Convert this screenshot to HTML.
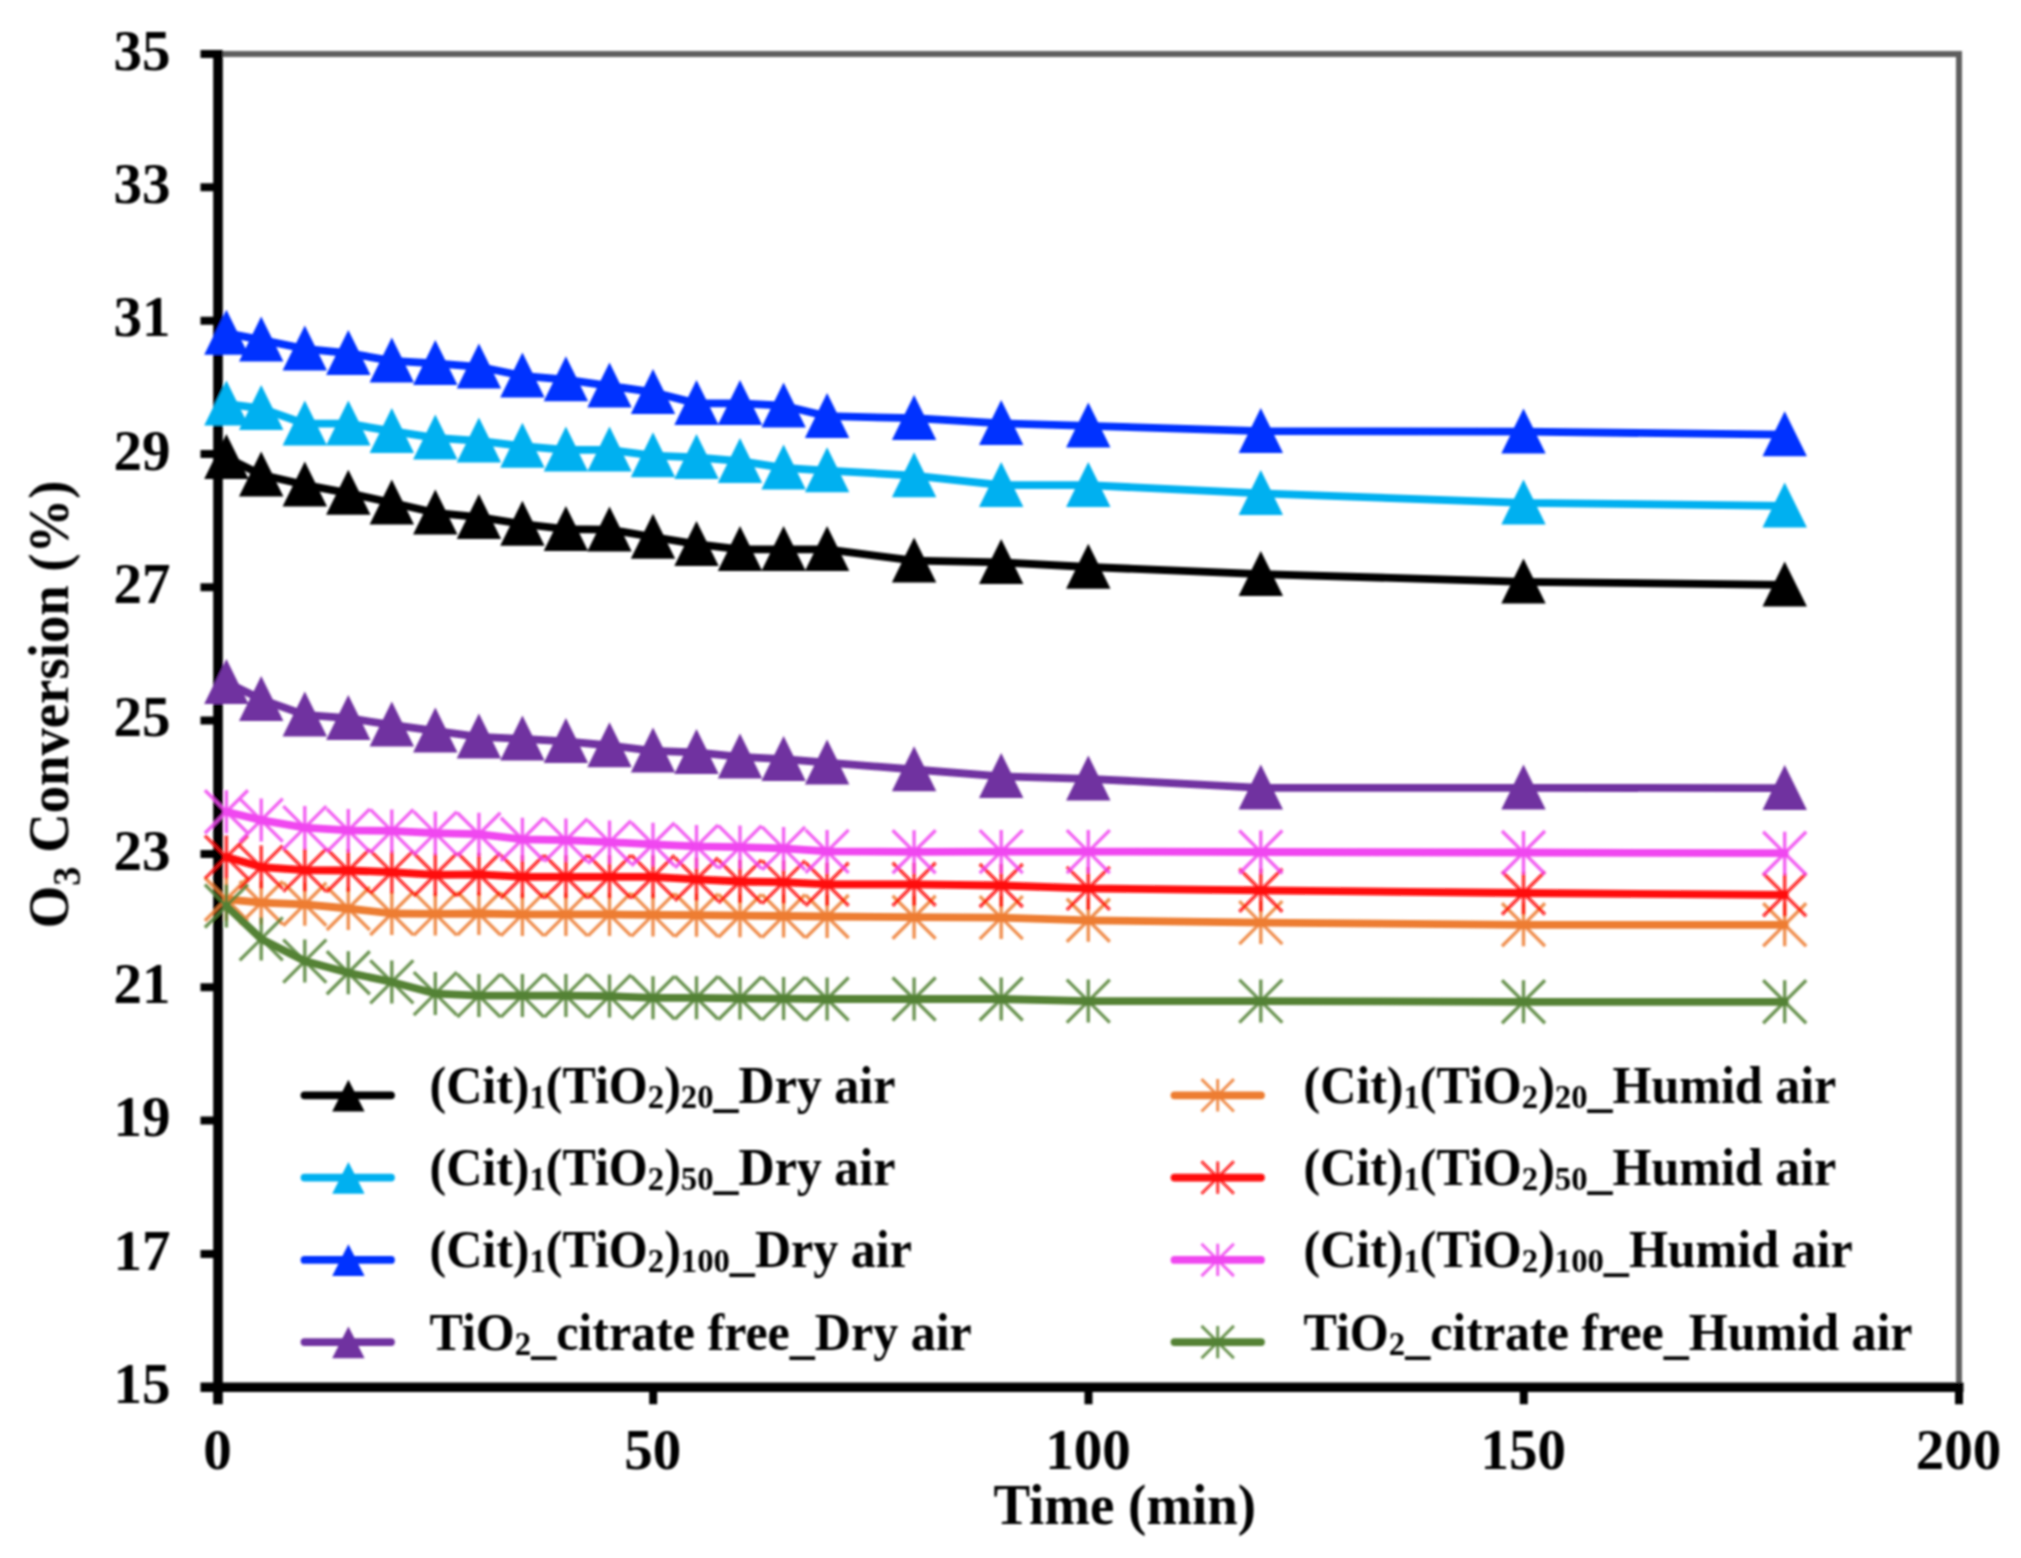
<!DOCTYPE html>
<html lang="en">
<head>
<meta charset="utf-8">
<title>O3 Conversion vs Time</title>
<style>
html,body{margin:0;padding:0;background:#fff;}
body{width:2021px;height:1558px;overflow:hidden;}
svg{display:block;}
.t{font-family:"Liberation Serif","Times New Roman",serif;font-weight:bold;fill:#000;}
</style>
</head>
<body>
<svg width="2021" height="1558" viewBox="0 0 2021 1558">
<defs><filter id="soft" x="0" y="0" width="2021" height="1558" filterUnits="userSpaceOnUse"><feGaussianBlur stdDeviation="0.8"/></filter></defs>
<rect width="2021" height="1558" fill="#ffffff"/>
<g filter="url(#soft)">
<path d="M218 54H1959V1387.3" fill="none" stroke="#5f5f5f" stroke-width="6" stroke-linejoin="miter"/>
<g stroke="#000" stroke-width="9.6" fill="none">
<path d="M218 50V1404.3"/>
<path d="M200.5 1387.3H1963.5"/>
</g>
<path d="M200.5 1254H218M200.5 1120.6H218M200.5 987.3H218M200.5 854H218M200.5 720.6H218M200.5 587.3H218M200.5 454H218M200.5 320.7H218M200.5 187.3H218M200.5 54H218M653.2 1387.3V1404.3M1088.5 1387.3V1404.3M1523.8 1387.3V1404.3M1959 1387.3V1404.3" stroke="#000" stroke-width="8" fill="none"/>
<g fill="#000000" stroke="none">
<polyline points="226.4,457.4 261.2,474.7 304.8,484.8 348.3,493.1 391.8,502.7 435.3,512.8 478.9,517.2 522.4,524 565.9,529.1 609.5,529.6 653,537 696.5,544.2 740,549.4 783.6,549.4 827.1,549.4 914.1,560.6 1001.2,562.3 1088.3,567 1260.8,574.1 1523.5,581.8 1784.7,584.8" fill="none" stroke="#000000" stroke-width="7.8" stroke-linejoin="round" stroke-linecap="round"/>
<path d="M226.4 434.1L248.6 479.1L204.2 479.1ZM261.2 451.4L283.4 496.4L239 496.4ZM304.8 461.4L327 506.4L282.6 506.4ZM348.3 469.8L370.5 514.8L326.1 514.8ZM391.8 479.4L414 524.4L369.6 524.4ZM435.3 489.5L457.5 534.5L413.1 534.5ZM478.9 494L501.1 539L456.7 539ZM522.4 500.8L544.6 545.8L500.2 545.8ZM565.9 505.9L588.1 550.9L543.7 550.9ZM609.5 506.4L631.7 551.4L587.3 551.4ZM653 513.8L675.2 558.8L630.8 558.8ZM696.5 521L718.7 566L674.3 566ZM740 526.1L762.2 571.1L717.8 571.1ZM783.6 526.1L805.8 571.1L761.4 571.1ZM827.1 526.1L849.3 571.1L804.9 571.1ZM914.1 537.4L936.3 582.4L891.9 582.4ZM1001.2 539L1023.4 584L979 584ZM1088.3 543.8L1110.5 588.8L1066.1 588.8ZM1260.8 550.9L1283 595.9L1238.6 595.9ZM1523.5 558.5L1545.7 603.5L1501.3 603.5ZM1784.7 561.5L1806.9 606.5L1762.5 606.5Z"/>
</g>
<g fill="#00B0F0" stroke="none">
<polyline points="226.4,403.9 261.2,408.4 304.8,423.7 348.3,423.7 391.8,431.2 435.3,437.9 478.9,440.9 522.4,446.1 565.9,449.9 609.5,449.9 653,455.6 696.5,457.4 740,461.2 783.6,467.9 827.1,470.6 914.1,475.6 1001.2,485.2 1088.3,485.2 1260.8,493.4 1523.5,502.9 1784.7,505.8" fill="none" stroke="#00B0F0" stroke-width="7.8" stroke-linejoin="round" stroke-linecap="round"/>
<path d="M226.4 380.6L248.6 425.6L204.2 425.6ZM261.2 385.1L283.4 430.1L239 430.1ZM304.8 400.4L327 445.4L282.6 445.4ZM348.3 400.4L370.5 445.4L326.1 445.4ZM391.8 407.9L414 452.9L369.6 452.9ZM435.3 414.6L457.5 459.6L413.1 459.6ZM478.9 417.6L501.1 462.6L456.7 462.6ZM522.4 422.8L544.6 467.8L500.2 467.8ZM565.9 426.6L588.1 471.6L543.7 471.6ZM609.5 426.6L631.7 471.6L587.3 471.6ZM653 432.2L675.2 477.2L630.8 477.2ZM696.5 434.1L718.7 479.1L674.3 479.1ZM740 437.9L762.2 482.9L717.8 482.9ZM783.6 444.6L805.8 489.6L761.4 489.6ZM827.1 447.2L849.3 492.2L804.9 492.2ZM914.1 452.2L936.3 497.2L891.9 497.2ZM1001.2 461.9L1023.4 506.9L979 506.9ZM1088.3 461.9L1110.5 506.9L1066.1 506.9ZM1260.8 470.1L1283 515.1L1238.6 515.1ZM1523.5 479.6L1545.7 524.6L1501.3 524.6ZM1784.7 482.5L1806.9 527.5L1762.5 527.5Z"/>
</g>
<g fill="#0432FF" stroke="none">
<polyline points="226.4,333.1 261.2,339.9 304.8,348.8 348.3,353.2 391.8,360.8 435.3,363.4 478.9,366.8 522.4,375.8 565.9,379.6 609.5,385.9 653,392.2 696.5,403.4 740,403.4 783.6,405.7 827.1,416.2 914.1,418.2 1001.2,423.4 1088.3,425.8 1260.8,431.2 1523.5,431.7 1784.7,434.6" fill="none" stroke="#0432FF" stroke-width="7.8" stroke-linejoin="round" stroke-linecap="round"/>
<path d="M226.4 309.8L248.6 354.8L204.2 354.8ZM261.2 316.6L283.4 361.6L239 361.6ZM304.8 325.4L327 370.4L282.6 370.4ZM348.3 329.9L370.5 374.9L326.1 374.9ZM391.8 337.4L414 382.4L369.6 382.4ZM435.3 340.1L457.5 385.1L413.1 385.1ZM478.9 343.4L501.1 388.4L456.7 388.4ZM522.4 352.4L544.6 397.4L500.2 397.4ZM565.9 356.2L588.1 401.2L543.7 401.2ZM609.5 362.6L631.7 407.6L587.3 407.6ZM653 368.9L675.2 413.9L630.8 413.9ZM696.5 380.1L718.7 425.1L674.3 425.1ZM740 380.1L762.2 425.1L717.8 425.1ZM783.6 382.4L805.8 427.4L761.4 427.4ZM827.1 392.9L849.3 437.9L804.9 437.9ZM914.1 394.9L936.3 439.9L891.9 439.9ZM1001.2 400.1L1023.4 445.1L979 445.1ZM1088.3 402.4L1110.5 447.4L1066.1 447.4ZM1260.8 407.9L1283 452.9L1238.6 452.9ZM1523.5 408.4L1545.7 453.4L1501.3 453.4ZM1784.7 411.2L1806.9 456.2L1762.5 456.2Z"/>
</g>
<g fill="#7030A0" stroke="none">
<polyline points="226.4,682.3 261.2,699.3 304.8,714.8 348.3,718.2 391.8,724.9 435.3,730.8 478.9,736.8 522.4,738.8 565.9,741.4 609.5,745.5 653,750.8 696.5,752.3 740,756.9 783.6,759.1 827.1,762.6 914.1,769.5 1001.2,776.4 1088.3,778.8 1260.8,787.8 1523.5,787.8 1784.7,788.2" fill="none" stroke="#7030A0" stroke-width="7.8" stroke-linejoin="round" stroke-linecap="round"/>
<path d="M226.4 659L248.6 704L204.2 704ZM261.2 676L283.4 721L239 721ZM304.8 691.5L327 736.5L282.6 736.5ZM348.3 695L370.5 740L326.1 740ZM391.8 701.6L414 746.6L369.6 746.6ZM435.3 707.5L457.5 752.5L413.1 752.5ZM478.9 713.5L501.1 758.5L456.7 758.5ZM522.4 715.5L544.6 760.5L500.2 760.5ZM565.9 718.1L588.1 763.1L543.7 763.1ZM609.5 722.2L631.7 767.2L587.3 767.2ZM653 727.5L675.2 772.5L630.8 772.5ZM696.5 729L718.7 774L674.3 774ZM740 733.6L762.2 778.6L717.8 778.6ZM783.6 735.9L805.8 780.9L761.4 780.9ZM827.1 739.4L849.3 784.4L804.9 784.4ZM914.1 746.2L936.3 791.2L891.9 791.2ZM1001.2 753.1L1023.4 798.1L979 798.1ZM1088.3 755.5L1110.5 800.5L1066.1 800.5ZM1260.8 764.5L1283 809.5L1238.6 809.5ZM1523.5 764.5L1545.7 809.5L1501.3 809.5ZM1784.7 765L1806.9 810L1762.5 810Z"/>
</g>
<g fill="none" stroke="#ED7D31">
<polyline points="226.4,899.3 261.2,902.7 304.8,904.3 348.3,908.5 391.8,913.5 435.3,913.9 478.9,913.5 522.4,914.4 565.9,914.4 609.5,914.4 653,914.9 696.5,915.2 740,915.7 783.6,916 827.1,916.5 914.1,917.2 1001.2,917.6 1088.3,920.3 1260.8,922.6 1523.5,924.8 1784.7,924.8" stroke-width="7.8" stroke-linejoin="round" stroke-linecap="round"/>
<path d="M204.9 877.8L247.9 920.8M204.9 920.8L247.9 877.8M226.4 877.8L226.4 920.8M239.7 881.2L282.7 924.2M239.7 924.2L282.7 881.2M261.2 881.2L261.2 924.2M283.3 882.8L326.3 925.8M283.3 925.8L326.3 882.8M304.8 882.8L304.8 925.8M326.8 887L369.8 930M326.8 930L369.8 887M348.3 887L348.3 930M370.3 892L413.3 935M370.3 935L413.3 892M391.8 892L391.8 935M413.8 892.4L456.8 935.4M413.8 935.4L456.8 892.4M435.3 892.4L435.3 935.4M457.4 892L500.4 935M457.4 935L500.4 892M478.9 892L478.9 935M500.9 892.9L543.9 935.9M500.9 935.9L543.9 892.9M522.4 892.9L522.4 935.9M544.4 892.9L587.4 935.9M544.4 935.9L587.4 892.9M565.9 892.9L565.9 935.9M588 892.9L631 935.9M588 935.9L631 892.9M609.5 892.9L609.5 935.9M631.5 893.4L674.5 936.4M631.5 936.4L674.5 893.4M653 893.4L653 936.4M675 893.7L718 936.7M675 936.7L718 893.7M696.5 893.7L696.5 936.7M718.5 894.2L761.5 937.2M718.5 937.2L761.5 894.2M740 894.2L740 937.2M762.1 894.5L805.1 937.5M762.1 937.5L805.1 894.5M783.6 894.5L783.6 937.5M805.6 895L848.6 938M805.6 938L848.6 895M827.1 895L827.1 938M892.6 895.7L935.6 938.7M892.6 938.7L935.6 895.7M914.1 895.7L914.1 938.7M979.7 896.1L1022.7 939.1M979.7 939.1L1022.7 896.1M1001.2 896.1L1001.2 939.1M1066.8 898.8L1109.8 941.8M1066.8 941.8L1109.8 898.8M1088.3 898.8L1088.3 941.8M1239.3 901.1L1282.3 944.1M1239.3 944.1L1282.3 901.1M1260.8 901.1L1260.8 944.1M1502 903.3L1545 946.3M1502 946.3L1545 903.3M1523.5 903.3L1523.5 946.3M1763.2 903.3L1806.2 946.3M1763.2 946.3L1806.2 903.3M1784.7 903.3L1784.7 946.3" stroke-width="3.4" stroke-opacity="0.85"/>
</g>
<g fill="none" stroke="#FF0A0A">
<polyline points="226.4,857.1 261.2,867.1 304.8,870.1 348.3,870.5 391.8,872.1 435.3,874.8 478.9,874.3 522.4,876.8 565.9,876.8 609.5,876.8 653,876.8 696.5,879.3 740,881.5 783.6,882.1 827.1,884.3 914.1,884.3 1001.2,885.5 1088.3,888.4 1260.8,890.3 1523.5,893 1784.7,894.8" stroke-width="7.8" stroke-linejoin="round" stroke-linecap="round"/>
<path d="M204.9 835.6L247.9 878.6M204.9 878.6L247.9 835.6M226.4 835.6L226.4 878.6M239.7 845.6L282.7 888.6M239.7 888.6L282.7 845.6M261.2 845.6L261.2 888.6M283.3 848.6L326.3 891.6M283.3 891.6L326.3 848.6M304.8 848.6L304.8 891.6M326.8 849L369.8 892M326.8 892L369.8 849M348.3 849L348.3 892M370.3 850.6L413.3 893.6M370.3 893.6L413.3 850.6M391.8 850.6L391.8 893.6M413.8 853.3L456.8 896.3M413.8 896.3L456.8 853.3M435.3 853.3L435.3 896.3M457.4 852.8L500.4 895.8M457.4 895.8L500.4 852.8M478.9 852.8L478.9 895.8M500.9 855.3L543.9 898.3M500.9 898.3L543.9 855.3M522.4 855.3L522.4 898.3M544.4 855.3L587.4 898.3M544.4 898.3L587.4 855.3M565.9 855.3L565.9 898.3M588 855.3L631 898.3M588 898.3L631 855.3M609.5 855.3L609.5 898.3M631.5 855.3L674.5 898.3M631.5 898.3L674.5 855.3M653 855.3L653 898.3M675 857.8L718 900.8M675 900.8L718 857.8M696.5 857.8L696.5 900.8M718.5 860L761.5 903M718.5 903L761.5 860M740 860L740 903M762.1 860.6L805.1 903.6M762.1 903.6L805.1 860.6M783.6 860.6L783.6 903.6M805.6 862.8L848.6 905.8M805.6 905.8L848.6 862.8M827.1 862.8L827.1 905.8M892.6 862.8L935.6 905.8M892.6 905.8L935.6 862.8M914.1 862.8L914.1 905.8M979.7 864L1022.7 907M979.7 907L1022.7 864M1001.2 864L1001.2 907M1066.8 866.9L1109.8 909.9M1066.8 909.9L1109.8 866.9M1088.3 866.9L1088.3 909.9M1239.3 868.8L1282.3 911.8M1239.3 911.8L1282.3 868.8M1260.8 868.8L1260.8 911.8M1502 871.5L1545 914.5M1502 914.5L1545 871.5M1523.5 871.5L1523.5 914.5M1763.2 873.3L1806.2 916.3M1763.2 916.3L1806.2 873.3M1784.7 873.3L1784.7 916.3" stroke-width="3.4" stroke-opacity="0.85"/>
</g>
<g fill="none" stroke="#F046F0">
<polyline points="226.4,811.7 261.2,820.1 304.8,827.6 348.3,830.4 391.8,830.9 435.3,833.1 478.9,834.2 522.4,839.3 565.9,840.1 609.5,842.1 653,844.3 696.5,846.4 740,847.1 783.6,848.4 827.1,851.4 914.1,851.8 1001.2,851.6 1088.3,851.6 1260.8,852 1523.5,852.5 1784.7,853.2" stroke-width="7.8" stroke-linejoin="round" stroke-linecap="round"/>
<path d="M204.9 790.2L247.9 833.2M204.9 833.2L247.9 790.2M226.4 790.2L226.4 833.2M239.7 798.6L282.7 841.6M239.7 841.6L282.7 798.6M261.2 798.6L261.2 841.6M283.3 806.1L326.3 849.1M283.3 849.1L326.3 806.1M304.8 806.1L304.8 849.1M326.8 808.9L369.8 851.9M326.8 851.9L369.8 808.9M348.3 808.9L348.3 851.9M370.3 809.4L413.3 852.4M370.3 852.4L413.3 809.4M391.8 809.4L391.8 852.4M413.8 811.6L456.8 854.6M413.8 854.6L456.8 811.6M435.3 811.6L435.3 854.6M457.4 812.7L500.4 855.7M457.4 855.7L500.4 812.7M478.9 812.7L478.9 855.7M500.9 817.8L543.9 860.8M500.9 860.8L543.9 817.8M522.4 817.8L522.4 860.8M544.4 818.6L587.4 861.6M544.4 861.6L587.4 818.6M565.9 818.6L565.9 861.6M588 820.6L631 863.6M588 863.6L631 820.6M609.5 820.6L609.5 863.6M631.5 822.8L674.5 865.8M631.5 865.8L674.5 822.8M653 822.8L653 865.8M675 824.9L718 867.9M675 867.9L718 824.9M696.5 824.9L696.5 867.9M718.5 825.6L761.5 868.6M718.5 868.6L761.5 825.6M740 825.6L740 868.6M762.1 826.9L805.1 869.9M762.1 869.9L805.1 826.9M783.6 826.9L783.6 869.9M805.6 829.9L848.6 872.9M805.6 872.9L848.6 829.9M827.1 829.9L827.1 872.9M892.6 830.3L935.6 873.3M892.6 873.3L935.6 830.3M914.1 830.3L914.1 873.3M979.7 830.1L1022.7 873.1M979.7 873.1L1022.7 830.1M1001.2 830.1L1001.2 873.1M1066.8 830.1L1109.8 873.1M1066.8 873.1L1109.8 830.1M1088.3 830.1L1088.3 873.1M1239.3 830.5L1282.3 873.5M1239.3 873.5L1282.3 830.5M1260.8 830.5L1260.8 873.5M1502 831L1545 874M1502 874L1545 831M1523.5 831L1523.5 874M1763.2 831.7L1806.2 874.7M1763.2 874.7L1806.2 831.7M1784.7 831.7L1784.7 874.7" stroke-width="3.4" stroke-opacity="0.85"/>
</g>
<g fill="none" stroke="#548235">
<polyline points="226.4,906 261.2,938.9 304.8,961.1 348.3,972.8 391.8,981.9 435.3,993.6 478.9,995.6 522.4,995.6 565.9,995.6 609.5,996.1 653,997.8 696.5,997.8 740,998.3 783.6,998.6 827.1,999 914.1,999 1001.2,999 1088.3,1001.1 1260.8,1001.1 1523.5,1001.8 1784.7,1001.8" stroke-width="7.8" stroke-linejoin="round" stroke-linecap="round"/>
<path d="M204.9 884.5L247.9 927.5M204.9 927.5L247.9 884.5M226.4 884.5L226.4 927.5M239.7 917.4L282.7 960.4M239.7 960.4L282.7 917.4M261.2 917.4L261.2 960.4M283.3 939.6L326.3 982.6M283.3 982.6L326.3 939.6M304.8 939.6L304.8 982.6M326.8 951.3L369.8 994.3M326.8 994.3L369.8 951.3M348.3 951.3L348.3 994.3M370.3 960.4L413.3 1003.4M370.3 1003.4L413.3 960.4M391.8 960.4L391.8 1003.4M413.8 972.1L456.8 1015.1M413.8 1015.1L456.8 972.1M435.3 972.1L435.3 1015.1M457.4 974.1L500.4 1017.1M457.4 1017.1L500.4 974.1M478.9 974.1L478.9 1017.1M500.9 974.1L543.9 1017.1M500.9 1017.1L543.9 974.1M522.4 974.1L522.4 1017.1M544.4 974.1L587.4 1017.1M544.4 1017.1L587.4 974.1M565.9 974.1L565.9 1017.1M588 974.6L631 1017.6M588 1017.6L631 974.6M609.5 974.6L609.5 1017.6M631.5 976.3L674.5 1019.3M631.5 1019.3L674.5 976.3M653 976.3L653 1019.3M675 976.3L718 1019.3M675 1019.3L718 976.3M696.5 976.3L696.5 1019.3M718.5 976.8L761.5 1019.8M718.5 1019.8L761.5 976.8M740 976.8L740 1019.8M762.1 977.1L805.1 1020.1M762.1 1020.1L805.1 977.1M783.6 977.1L783.6 1020.1M805.6 977.5L848.6 1020.5M805.6 1020.5L848.6 977.5M827.1 977.5L827.1 1020.5M892.6 977.5L935.6 1020.5M892.6 1020.5L935.6 977.5M914.1 977.5L914.1 1020.5M979.7 977.5L1022.7 1020.5M979.7 1020.5L1022.7 977.5M1001.2 977.5L1001.2 1020.5M1066.8 979.6L1109.8 1022.6M1066.8 1022.6L1109.8 979.6M1088.3 979.6L1088.3 1022.6M1239.3 979.6L1282.3 1022.6M1239.3 1022.6L1282.3 979.6M1260.8 979.6L1260.8 1022.6M1502 980.3L1545 1023.3M1502 1023.3L1545 980.3M1523.5 980.3L1523.5 1023.3M1763.2 980.3L1806.2 1023.3M1763.2 1023.3L1806.2 980.3M1784.7 980.3L1784.7 1023.3" stroke-width="3.4" stroke-opacity="0.85"/>
</g>
<g class="t" font-size="57">
<text x="170.4" y="1403" text-anchor="end">15</text>
<text x="170.4" y="1269.7" text-anchor="end">17</text>
<text x="170.4" y="1136.3" text-anchor="end">19</text>
<text x="170.4" y="1003" text-anchor="end">21</text>
<text x="170.4" y="869.7" text-anchor="end">23</text>
<text x="170.4" y="736.4" text-anchor="end">25</text>
<text x="170.4" y="603" text-anchor="end">27</text>
<text x="170.4" y="469.7" text-anchor="end">29</text>
<text x="170.4" y="336.4" text-anchor="end">31</text>
<text x="170.4" y="203" text-anchor="end">33</text>
<text x="170.4" y="69.7" text-anchor="end">35</text>
<text x="217.5" y="1469" text-anchor="middle">0</text>
<text x="652.8" y="1469" text-anchor="middle">50</text>
<text x="1088" y="1469" text-anchor="middle">100</text>
<text x="1523.2" y="1469" text-anchor="middle">150</text>
<text x="1958.5" y="1469" text-anchor="middle">200</text>
<text transform="translate(1124.8 1524) scale(0.963 1)" text-anchor="middle">Time (min)</text>
<text transform="translate(68 704.4) rotate(-90) scale(0.96 1)" text-anchor="middle">O<tspan font-size="40" dy="12">3</tspan><tspan dy="-12"> Conversion (%)</tspan></text>
</g>
<g class="t" font-size="52">
<text transform="translate(429.5 1102.7) scale(0.962 1)">(Cit)<tspan font-size="34" dy="5">1</tspan><tspan dy="-5">(TiO</tspan><tspan font-size="34" dy="5">2</tspan><tspan dy="-5">)</tspan><tspan font-size="34" dy="5">20</tspan><tspan dy="-2">_</tspan><tspan dy="-3">Dry air</tspan></text>
<text transform="translate(429.5 1185) scale(0.962 1)">(Cit)<tspan font-size="34" dy="5">1</tspan><tspan dy="-5">(TiO</tspan><tspan font-size="34" dy="5">2</tspan><tspan dy="-5">)</tspan><tspan font-size="34" dy="5">50</tspan><tspan dy="-2">_</tspan><tspan dy="-3">Dry air</tspan></text>
<text transform="translate(429.5 1267.3) scale(0.962 1)">(Cit)<tspan font-size="34" dy="5">1</tspan><tspan dy="-5">(TiO</tspan><tspan font-size="34" dy="5">2</tspan><tspan dy="-5">)</tspan><tspan font-size="34" dy="5">100</tspan><tspan dy="-2">_</tspan><tspan dy="-3">Dry air</tspan></text>
<text transform="translate(429.5 1349.5) scale(0.962 1)">TiO<tspan font-size="34" dy="5">2</tspan><tspan dy="-2">_</tspan><tspan dy="-3">citrate free</tspan><tspan dy="3">_</tspan><tspan dy="-3">Dry air</tspan></text>
<text transform="translate(1303.5 1102.7) scale(0.962 1)">(Cit)<tspan font-size="34" dy="5">1</tspan><tspan dy="-5">(TiO</tspan><tspan font-size="34" dy="5">2</tspan><tspan dy="-5">)</tspan><tspan font-size="34" dy="5">20</tspan><tspan dy="-2">_</tspan><tspan dy="-3">Humid air</tspan></text>
<text transform="translate(1303.5 1185) scale(0.962 1)">(Cit)<tspan font-size="34" dy="5">1</tspan><tspan dy="-5">(TiO</tspan><tspan font-size="34" dy="5">2</tspan><tspan dy="-5">)</tspan><tspan font-size="34" dy="5">50</tspan><tspan dy="-2">_</tspan><tspan dy="-3">Humid air</tspan></text>
<text transform="translate(1303.5 1267.3) scale(0.962 1)">(Cit)<tspan font-size="34" dy="5">1</tspan><tspan dy="-5">(TiO</tspan><tspan font-size="34" dy="5">2</tspan><tspan dy="-5">)</tspan><tspan font-size="34" dy="5">100</tspan><tspan dy="-2">_</tspan><tspan dy="-3">Humid air</tspan></text>
<text transform="translate(1303.5 1349.5) scale(0.962 1)">TiO<tspan font-size="34" dy="5">2</tspan><tspan dy="-2">_</tspan><tspan dy="-3">citrate free</tspan><tspan dy="3">_</tspan><tspan dy="-3">Humid air</tspan></text>
</g>
<path d="M304.5 1095.3H391" stroke="#000000" stroke-width="7.8" fill="none" stroke-linecap="round"/>
<path d="M348.4 1079.7L364.6 1111.5L332.2 1111.5Z" fill="#000000"/>
<path d="M304.5 1177.6H391" stroke="#00B0F0" stroke-width="7.8" fill="none" stroke-linecap="round"/>
<path d="M348.4 1162L364.6 1193.8L332.2 1193.8Z" fill="#00B0F0"/>
<path d="M304.5 1259.9H391" stroke="#0432FF" stroke-width="7.8" fill="none" stroke-linecap="round"/>
<path d="M348.4 1244.3L364.6 1276.1L332.2 1276.1Z" fill="#0432FF"/>
<path d="M304.5 1342.1H391" stroke="#7030A0" stroke-width="7.8" fill="none" stroke-linecap="round"/>
<path d="M348.4 1326.5L364.6 1358.3L332.2 1358.3Z" fill="#7030A0"/>
<path d="M1174.5 1095.3H1261" stroke="#ED7D31" stroke-width="7.8" fill="none" stroke-linecap="round"/>
<path d="M1201.5 1079.1L1233.9 1111.5M1201.5 1111.5L1233.9 1079.1M1217.7 1079.1L1217.7 1111.5" stroke="#ED7D31" stroke-width="3" stroke-opacity="0.85" fill="none"/>
<path d="M1174.5 1177.6H1261" stroke="#FF0A0A" stroke-width="7.8" fill="none" stroke-linecap="round"/>
<path d="M1201.5 1161.4L1233.9 1193.8M1201.5 1193.8L1233.9 1161.4M1217.7 1161.4L1217.7 1193.8" stroke="#FF0A0A" stroke-width="3" stroke-opacity="0.85" fill="none"/>
<path d="M1174.5 1259.9H1261" stroke="#F046F0" stroke-width="7.8" fill="none" stroke-linecap="round"/>
<path d="M1201.5 1243.7L1233.9 1276.1M1201.5 1276.1L1233.9 1243.7M1217.7 1243.7L1217.7 1276.1" stroke="#F046F0" stroke-width="3" stroke-opacity="0.85" fill="none"/>
<path d="M1174.5 1342.1H1261" stroke="#548235" stroke-width="7.8" fill="none" stroke-linecap="round"/>
<path d="M1201.5 1325.9L1233.9 1358.3M1201.5 1358.3L1233.9 1325.9M1217.7 1325.9L1217.7 1358.3" stroke="#548235" stroke-width="3" stroke-opacity="0.85" fill="none"/>
</g>
</svg>
</body>
</html>
